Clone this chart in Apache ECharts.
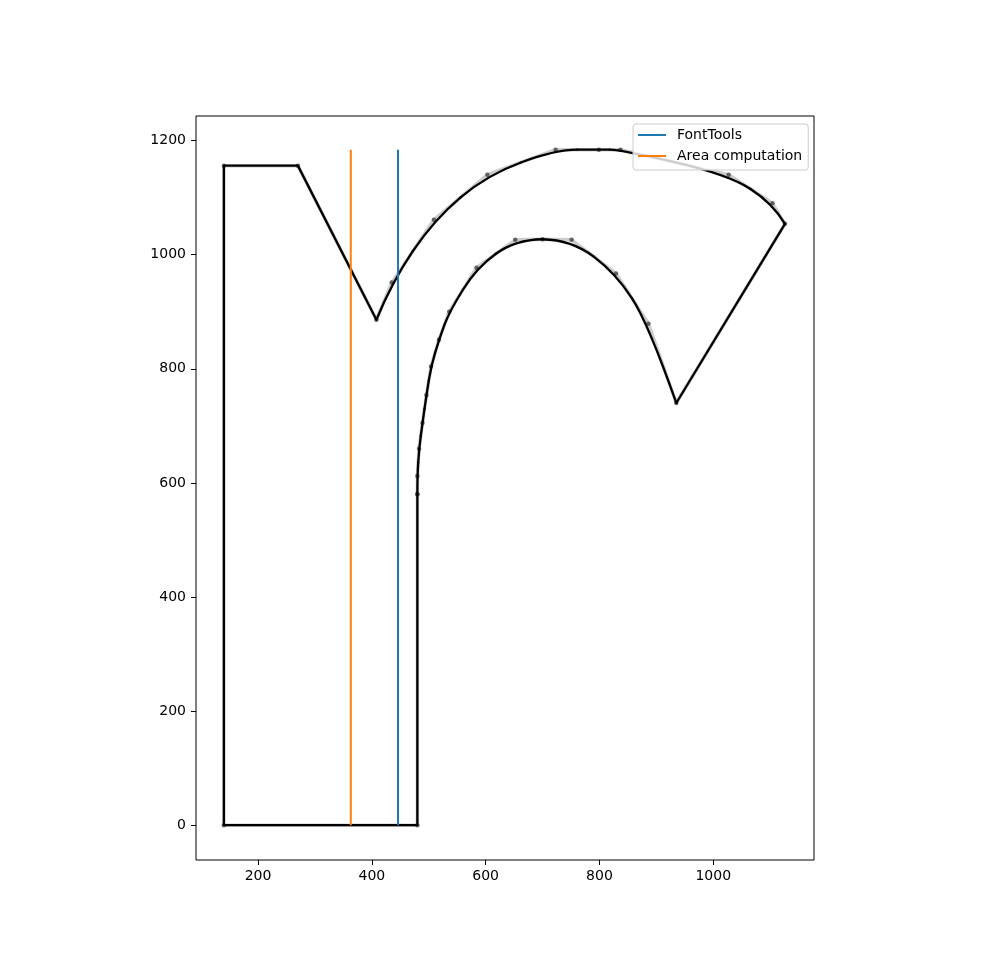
<!DOCTYPE html>
<html>
<head>
<meta charset="utf-8">
<script src="https://cdn.jsdelivr.net/npm/echarts@6/dist/echarts.min.js"></script>
<style>
html, body { margin: 0; padding: 0; background: #fff; }
#chart { width: 985px; height: 966px; }
</style>
</head>
<body>
<div id="chart"></div>
<script>
// glyph "r" outline, font units
// straight edges
var stemPath = [[480, 580], [480, 0], [140, 0], [140, 1156], [270, 1156], [408, 886]];
var tipEdge = [[1126, 1054], [935, 740]];
// quadratic curves: first/last are on-curve, the rest are off-curve control points
var outerArc = [[408, 886], [435, 951], [509, 1061], [603, 1140], [723, 1184], [799, 1184],
                [837, 1184], [1027, 1140], [1104, 1090], [1126, 1054]];
var innerArcRight = [[935, 740], [886, 879], [829, 967], [751, 1026], [700, 1027]];
var innerArcLeft = [[700, 1027], [652, 1026], [584, 977], [536, 900], [518, 851], [504, 804],
                    [496, 754], [489, 705], [483, 660], [480, 612], [480, 580]];

// centroid x from the two methods
var fontToolsX = 446;
var areaX = 363;
var lineBottom = 0;
var lineTop = 1184;

var xTicks = [200, 400, 600, 800, 1000];
var yTicks = [0, 200, 400, 600, 800, 1000, 1200];

var contour = stemPath.concat(outerArc.slice(1), tipEdge.slice(1),
                              innerArcRight.slice(1), innerArcLeft.slice(1));

var myChart = echarts.init(document.getElementById('chart'));

var font = 'DejaVu Sans';

function straight(data) {
    return {
        type: 'line',
        data: data,
        showSymbol: false,
        silent: true,
        z: 3,
        lineStyle: { color: '#000', width: 2.3, join: 'round' }
    };
}

// each off-curve point draws its own quadratic piece, TrueType style
function curve(pts) {
    return {
        type: 'custom',
        data: pts,
        silent: true,
        z: 3,
        renderItem: function (params, api) {
            var i = params.dataIndex;
            var n = pts.length;
            if (i === 0 || i === n - 1) return;
            var c = api.coord(pts[i]);
            var a, b;
            if (i === 1) {
                a = api.coord(pts[0]);
            } else {
                var p = api.coord(pts[i - 1]);
                a = [(p[0] + c[0]) / 2, (p[1] + c[1]) / 2];
            }
            if (i === n - 2) {
                b = api.coord(pts[n - 1]);
            } else {
                var q = api.coord(pts[i + 1]);
                b = [(q[0] + c[0]) / 2, (q[1] + c[1]) / 2];
            }
            return {
                type: 'path',
                shape: {
                    pathData: 'M' + a[0] + ' ' + a[1] + ' Q' + c[0] + ' ' + c[1] + ' ' + b[0] + ' ' + b[1]
                },
                style: { fill: null, stroke: '#000', lineWidth: 2.3, lineCap: 'round' }
            };
        }
    };
}

function plainLabel(v) { return String(v); }

option = {
    animation: false,
    backgroundColor: '#fff',
    textStyle: { fontFamily: font },
    grid: {
        left: 196,
        right: 171,
        top: 116,
        bottom: 106,
        show: true,
        borderColor: '#000',
        borderWidth: 1,
        backgroundColor: 'transparent'
    },
    legend: {
        orient: 'vertical',
        left: 633,
        top: 124,
        padding: [4, 6, 7, 5],
        itemWidth: 28,
        itemHeight: 2,
        itemGap: 7,
        icon: 'rect',
        backgroundColor: 'rgba(255,255,255,0.8)',
        borderColor: '#cccccc',
        borderWidth: 1,
        borderRadius: 3,
        z: 10,
        textStyle: { fontFamily: font, fontSize: 14, color: '#000', lineHeight: 14, padding: [0, 0, 0, 6] },
        data: ['FontTools', 'Area computation']
    },
    xAxis: {
        type: 'value',
        min: 91,
        max: 1177,
        splitLine: { show: false },
        axisLine: { show: false, onZero: false },
        axisTick: { show: true, length: 5, lineStyle: { color: '#000', width: 1 }, customValues: xTicks },
        axisLabel: { fontFamily: font, fontSize: 14, color: '#000', margin: 9, customValues: xTicks, formatter: plainLabel }
    },
    yAxis: {
        type: 'value',
        min: -61,
        max: 1243,
        splitLine: { show: false },
        axisLine: { show: false, onZero: false },
        axisTick: { show: true, length: 5, lineStyle: { color: '#000', width: 1 }, customValues: yTicks },
        axisLabel: { fontFamily: font, fontSize: 14, color: '#000', margin: 10, customValues: yTicks, formatter: plainLabel }
    },
    series: [
        {
            // control polygon
            type: 'line',
            data: contour,
            showSymbol: false,
            silent: true,
            z: 1,
            lineStyle: { color: 'rgba(0,0,0,0.2)', width: 3.5 }
        },
        {
            type: 'scatter',
            data: contour,
            symbolSize: 4.5,
            silent: true,
            z: 2,
            itemStyle: { color: '#444' }
        },
        straight(stemPath),
        curve(outerArc),
        straight(tipEdge),
        curve(innerArcRight),
        curve(innerArcLeft),
        {
            name: 'FontTools',
            type: 'line',
            data: [[fontToolsX, lineBottom], [fontToolsX, lineTop]],
            showSymbol: false,
            z: 5,
            color: '#1f77b4',
            lineStyle: { color: '#1f77b4', width: 2 }
        },
        {
            name: 'Area computation',
            type: 'line',
            data: [[areaX, lineBottom], [areaX, lineTop]],
            showSymbol: false,
            z: 5,
            color: '#ff7f0e',
            lineStyle: { color: '#ff7f0e', width: 2 }
        }
    ]
};
myChart.setOption(option);
</script>
</body>
</html>
